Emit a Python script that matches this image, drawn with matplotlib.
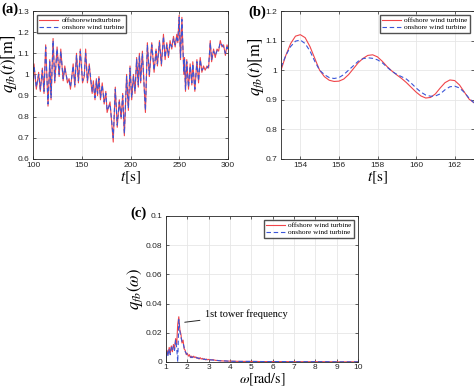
import numpy as np
import matplotlib
matplotlib.use("Agg")
import matplotlib.pyplot as plt

plt.rcParams['mathtext.fontset'] = 'stix'
plt.rcParams['font.family'] = ['Liberation Sans', 'DejaVu Sans']

# ---------------- data: panel (a) ----------------
t_a = [100, 101.0, 103.4, 105.8, 107.5, 109.6, 111.3, 113.0, 115.4, 117.2,
       118.5, 120.6, 122.3, 124.7, 126.8, 128.5, 130.9, 132.6, 135.3, 137.0,
       138.4, 141.2, 142.9, 144.6, 146.6, 148.5, 150.8, 152.6, 154.0, 155.8,
       157.7, 159.0, 160.7, 161.9, 163.6, 165.0, 166.2, 167.6, 169.2, 171.0,
       173.0, 174.7, 176.0, 179.0, 182.3, 184.4, 186.4, 188.5, 190.4, 192.0,
       193.7, 196.0, 197.8, 199.5, 201.2, 203.0, 204.6, 206.3, 208.0, 209.1,
       210.4, 212.2, 215.3, 217.3, 219.3, 221.8, 224.2, 226.2, 227.6, 229.7,
       231.7, 233.8, 235.5, 237.2, 238.9, 240.6, 242.3, 244.1, 245.8, 247.5,
       248.5, 249.9, 251.3, 252.7, 254.7, 255.4, 256.4, 257.7, 259.5, 261.2,
       262.9, 263.9, 266.0, 268.1, 269.8, 271.5, 273.2, 274.9, 276.6, 278.4,
       280.1, 281.8, 283.2, 285.2, 286.9, 288.7, 290.4, 292.1, 293.8, 295.5,
       297.3, 299.0, 300]
off_a = [0.97, 1.05, 0.93, 1.01, 0.92, 1.03, 0.91, 1.14, 0.85, 1.07,
         0.88, 1.17, 0.96, 1.13, 0.99, 1.12, 0.97, 1.04, 0.96, 0.98,
         0.93, 1.05, 0.94, 1.10, 0.96, 1.12, 0.96, 0.99, 1.12, 0.96,
         1.05, 0.98, 0.91, 0.97, 0.88, 0.98, 0.90, 0.99, 0.88, 0.96,
         0.86, 0.92, 0.82, 0.87, 0.68, 0.94, 0.75, 0.88, 0.79, 0.91,
         0.71, 1.00, 0.83, 1.04, 0.88, 1.00, 0.91, 1.08, 0.94, 1.10,
         0.96, 1.11, 0.82, 1.15, 0.99, 1.15, 1.01, 1.12, 1.04, 1.16,
         1.04, 1.19, 1.07, 1.15, 1.08, 1.16, 1.12, 1.18, 1.13, 1.19,
         1.15, 1.28, 1.07, 1.27, 1.00, 1.08, 0.92, 1.07, 0.93, 1.05,
         0.95, 1.06, 0.92, 1.07, 0.96, 1.08, 1.01, 1.04, 1.02, 1.04,
         1.03, 1.16, 1.06, 1.12, 1.08, 1.12, 1.11, 1.16, 1.13, 1.14,
         1.09, 1.14, 1.12]
on_a = [0.98, 1.04, 0.94, 1.00, 0.93, 1.02, 0.92, 1.13, 0.86, 1.06,
        0.89, 1.16, 0.97, 1.12, 1.00, 1.11, 0.98, 1.03, 0.97, 0.97,
        0.94, 1.04, 0.95, 1.09, 0.97, 1.11, 0.97, 1.00, 1.10, 0.97,
        1.04, 0.99, 0.92, 0.95, 0.89, 0.97, 0.91, 0.98, 0.89, 0.95,
        0.87, 0.91, 0.83, 0.86, 0.70, 0.93, 0.76, 0.87, 0.80, 0.90,
        0.72, 0.99, 0.84, 1.03, 0.89, 0.99, 0.92, 1.07, 0.95, 1.09,
        0.97, 1.10, 0.83, 1.14, 1.00, 1.14, 1.02, 1.11, 1.05, 1.15,
        1.05, 1.18, 1.08, 1.14, 1.09, 1.15, 1.13, 1.17, 1.14, 1.18,
        1.16, 1.27, 1.08, 1.26, 1.01, 1.07, 0.93, 1.06, 0.94, 1.04,
        0.96, 1.05, 0.93, 1.06, 0.97, 1.07, 1.02, 1.03, 1.03, 1.03,
        1.04, 1.15, 1.07, 1.11, 1.09, 1.11, 1.12, 1.15, 1.14, 1.13,
        1.10, 1.13, 1.11]

# ---------------- data: panel (b) ----------------
t_b = [153.0, 153.25, 153.5, 153.75, 154.0, 154.25, 154.5, 154.75, 155.0, 155.25,
       155.5, 155.75, 156.0, 156.25, 156.5, 156.75, 157.0, 157.25, 157.5, 157.75,
       158.0, 158.25, 158.5, 158.75, 159.0, 159.25, 159.5, 159.75, 160.0, 160.25,
       160.5, 160.75, 161.0, 161.25, 161.5, 161.75, 162.0, 162.25, 162.5, 162.75,
       163.0]
off_b = [1.00, 1.05, 1.09, 1.115, 1.12, 1.11, 1.08, 1.04, 1.00, 0.978,
         0.966, 0.962, 0.963, 0.970, 0.985, 1.005, 1.025, 1.040, 1.050, 1.052,
         1.045, 1.030, 1.012, 0.997, 0.984, 0.972, 0.958, 0.942, 0.926, 0.913,
         0.906, 0.908, 0.920, 0.940, 0.958, 0.967, 0.965, 0.950, 0.926, 0.902,
         0.890]
on_b = [1.01, 1.05, 1.08, 1.098, 1.102, 1.09, 1.065, 1.03, 1.00, 0.985,
        0.975, 0.972, 0.975, 0.985, 1.000, 1.015, 1.030, 1.039, 1.042, 1.040,
        1.035, 1.025, 1.010, 0.996, 0.986, 0.978, 0.970, 0.956, 0.940, 0.926,
        0.916, 0.912, 0.913, 0.920, 0.934, 0.944, 0.946, 0.940, 0.925, 0.905,
        0.890]

# ---------------- data: panel (c) ----------------
w_c = [1.00, 1.05, 1.10, 1.15, 1.20, 1.25, 1.30, 1.35, 1.40, 1.45,
       1.50, 1.55, 1.60, 1.65, 1.70, 1.75, 1.80, 1.85, 1.90, 1.95,
       2.00, 2.05, 2.10, 2.15, 2.20, 2.25, 2.30, 2.35, 2.40, 2.45,
       2.50, 2.55, 2.60, 2.65, 2.70, 2.75, 2.80, 2.85, 2.90, 2.95,
       3.00, 3.10, 3.20, 3.30, 3.40, 3.50, 3.60, 3.70, 3.80, 3.90,
       4.00, 4.5, 5.0, 5.5, 6.0, 6.5, 7.0, 7.5, 8.0, 8.5,
       9.0, 9.5, 10.0]
off_c = [0.003, 0.008, 0.005, 0.010, 0.006, 0.011, 0.007, 0.012, 0.009, 0.016,
         0.012, 0.026, 0.031, 0.022, 0.019, 0.013, 0.015, 0.009, 0.008, 0.005,
         0.006, 0.004, 0.005, 0.003, 0.004, 0.003, 0.004, 0.003, 0.0035, 0.0025,
         0.003, 0.002, 0.003, 0.002, 0.0025, 0.0018, 0.0022, 0.0015, 0.002, 0.0015,
         0.0018, 0.0014, 0.0016, 0.0012, 0.0010, 0.0009, 0.0008, 0.0007, 0.0007, 0.0006,
         0.0006, 0.0004, 0.0004, 0.0003, 0.0003, 0.0003, 0.0002, 0.0002, 0.0002, 0.0002,
         0.0001, 0.0001, 0.0001]
on_c = [0.002, 0.007, 0.004, 0.009, 0.005, 0.010, 0.008, 0.011, 0.008, 0.015,
        0.010, 0.000, 0.029, 0.021, 0.017, 0.014, 0.013, 0.010, 0.007, 0.006,
        0.005, 0.0045, 0.004, 0.0035, 0.003, 0.0035, 0.003, 0.0035, 0.003, 0.003,
        0.0025, 0.0025, 0.0025, 0.0022, 0.002, 0.002, 0.0018, 0.0018, 0.0016, 0.0017,
        0.0015, 0.0015, 0.0013, 0.0012, 0.0011, 0.0009, 0.0008, 0.0008, 0.0007, 0.0006,
        0.0005, 0.0004, 0.0004, 0.0003, 0.0003, 0.0003, 0.0002, 0.0002, 0.0002, 0.0002,
        0.0001, 0.0001, 0.0001]

RED = '#f0454a'
BLUE = '#3a55d8'
W, H = 474, 389

fig = plt.figure(figsize=(W / 100, H / 100), dpi=100)


def px_axes(l, t, r, b):
    return fig.add_axes([l / W, 1 - b / H, (r - l) / W, (b - t) / H])


def style(ax):
    ax.grid(True, color='#e6e6e6', linewidth=0.6)
    ax.set_axisbelow(True)
    ax.tick_params(direction='in', length=2.5, width=0.5, labelsize=6,
                   top=True, right=True, pad=2.5, colors='#262626')
    for s in ax.spines.values():
        s.set_linewidth(0.6)
        s.set_color('#262626')


leg_kw = dict(prop={'family': 'Liberation Serif', 'size': 5.2}, frameon=True,
              fancybox=False, edgecolor='#262626', handlelength=2.6,
              borderpad=0.35, labelspacing=0.15, handletextpad=0.5)

XLAB = 11
YLAB = 12

# (a)
ax = px_axes(33, 11, 228, 159)
ax.plot(t_a, off_a, color=RED, lw=0.8, label='offshorewindturbine')
ax.plot(t_a, on_a, color=BLUE, lw=0.8, ls=(0, (4, 2.5)), label='onshore wind turbine')
ax.set_xlim(100, 300)
ax.set_ylim(0.6, 1.3)
ax.set_xticks([100, 150, 200, 250, 300])
ax.set_yticks([0.6, 0.7, 0.8, 0.9, 1.0, 1.1, 1.2, 1.3])
ax.set_yticklabels(['0.6', '0.7', '0.8', '0.9', '1', '1.1', '1.2', '1.3'])
style(ax)
ax.set_xlabel(r'$t\mathrm{[s]}$', fontsize=XLAB, labelpad=0)
ax.set_ylabel(r'$q_{fb}(t)\mathrm{[m]}$', fontsize=YLAB, va='center')
ax.yaxis.set_label_coords(-0.12, 0.64)
ax.legend(loc='upper left', **leg_kw)

# (b)
ax = px_axes(281, 11, 474, 159)
ax.plot(t_b, off_b, color=RED, lw=0.8, label='offshore wind turbine')
ax.plot(t_b, on_b, color=BLUE, lw=0.8, ls=(0, (4, 2.5)), label='onshore wind turbine')
ax.set_xlim(153, 163)
ax.set_ylim(0.7, 1.2)
ax.set_xticks([154, 156, 158, 160, 162])
ax.set_yticks([0.7, 0.8, 0.9, 1.0, 1.1, 1.2])
ax.set_yticklabels(['0.7', '0.8', '0.9', '1', '1.1', '1.2'])
style(ax)
ax.set_xlabel(r'$t\mathrm{[s]}$', fontsize=XLAB, labelpad=0)
ax.set_ylabel(r'$q_{fb}(t)\mathrm{[m]}$', fontsize=YLAB, va='center')
ax.yaxis.set_label_coords(-0.127, 0.62)
ax.legend(loc='upper right', **leg_kw)

# (c)
ax = px_axes(166, 216, 358, 362)
ax.plot(w_c, off_c, color=RED, lw=0.8, label='offshore wind turbine')
ax.plot(w_c, on_c, color=BLUE, lw=0.8, ls=(0, (4, 2.5)), label='onshore wind turbine')
ax.set_xlim(1, 10)
ax.set_ylim(0, 0.1)
ax.set_xticks(range(1, 11))
ax.set_yticks([0, 0.02, 0.04, 0.06, 0.08, 0.1])
ax.set_yticklabels(['0', '0.02', '0.04', '0.06', '0.08', '0.1'])
style(ax)
ax.tick_params(axis='x', pad=1.5)
ax.set_xlabel(r'$\omega\mathrm{[rad/s]}$', fontsize=10, labelpad=0)
ax.set_ylabel(r'$q_{fb}(\omega)$', fontsize=YLAB, va='center')
ax.yaxis.set_label_coords(-0.158, 0.5)
ax.legend(loc='upper right', **leg_kw)
ax.annotate('1st tower frequency', xy=(1.75, 0.027), xytext=(2.85, 0.0325),
            fontsize=7.5, family='Liberation Serif', va='center', ha='left',
            arrowprops=dict(arrowstyle='-', color='#262626', lw=0.7))

# panel labels
for x, y, s in [(1, 9, '(a)'), (248, 12, '(b)'), (130, 213, '(c)')]:
    fig.text(x / W, 1 - y / H, s, fontsize=10.5, fontweight='bold',
             family='Liberation Serif', va='center', ha='left')

fig.savefig('out.png', dpi=100)
